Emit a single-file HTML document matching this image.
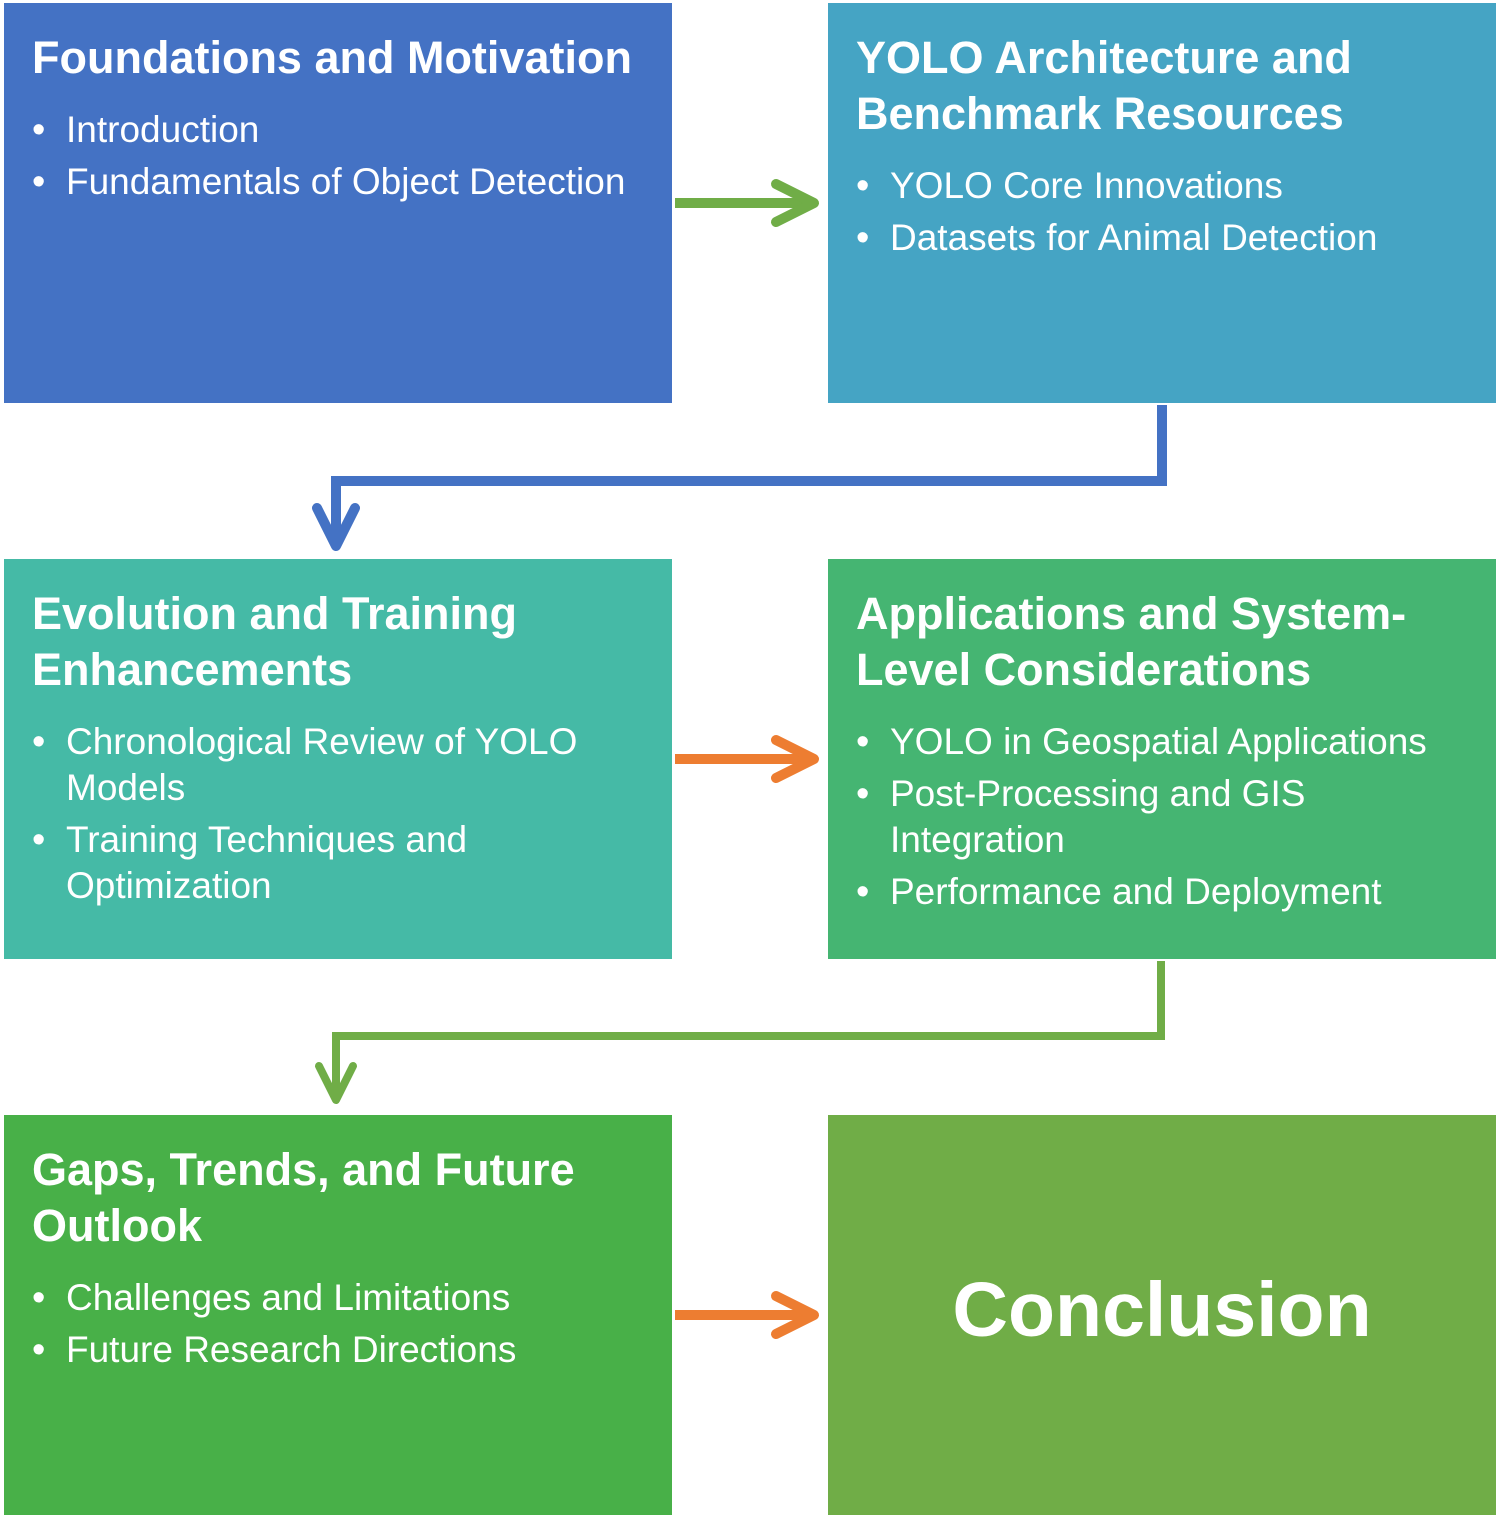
<!DOCTYPE html>
<html><head><meta charset="utf-8"><style>
body{margin:0;width:1499px;height:1518px;background:#fff;position:relative;overflow:hidden;font-family:"Liberation Sans",sans-serif;color:#fff}
.b{position:absolute;width:668px;height:400px;box-sizing:border-box;padding:27px 0 0 28px;white-space:nowrap}
h2{margin:0 0 21px;font-size:45px;line-height:56px;font-weight:bold}
ul{margin:0;padding:0;list-style:none}
li{font-size:37px;line-height:46px;padding-left:34px;position:relative;margin-bottom:6px}
li:before{content:"•";position:absolute;left:0;font-size:38px}
</style></head><body>
<div class="b" style="left:4px;top:3px;background:#4472C4"><h2>Foundations and Motivation</h2><ul><li>Introduction</li><li>Fundamentals of Object Detection</li></ul></div>
<div class="b" style="left:828px;top:3px;background:#45A4C4"><h2>YOLO Architecture and<br>Benchmark Resources</h2><ul><li>YOLO Core Innovations</li><li>Datasets for Animal Detection</li></ul></div>
<div class="b" style="left:4px;top:559px;background:#45BAA6"><h2>Evolution and Training<br>Enhancements</h2><ul><li>Chronological Review of YOLO<br>Models</li><li>Training Techniques and<br>Optimization</li></ul></div>
<div class="b" style="left:828px;top:559px;background:#45B572"><h2>Applications and System-<br>Level Considerations</h2><ul><li>YOLO in Geospatial Applications</li><li>Post-Processing and GIS<br>Integration</li><li>Performance and Deployment</li></ul></div>
<div class="b" style="left:4px;top:1115px;background:#48B048"><h2>Gaps, Trends, and Future<br>Outlook</h2><ul><li>Challenges and Limitations</li><li>Future Research Directions</li></ul></div>
<div class="b" style="left:828px;top:1115px;background:#70AD47;padding:0;display:flex;align-items:center;justify-content:center"><span style="font-size:77px;font-weight:bold;margin-top:-10px">Conclusion</span></div>
<svg width="1499" height="1518" style="position:absolute;left:0;top:0" fill="none" stroke-width="10">
<g stroke="#70AD47"><path d="M675 203H812"/><path d="M776 184L814 203L776 222" stroke-linecap="round" stroke-linejoin="round"/></g>
<g stroke="#ED7D31"><path d="M675 759H812"/><path d="M776 740L814 759L776 778" stroke-linecap="round" stroke-linejoin="round"/></g>
<g stroke="#ED7D31"><path d="M675 1315H812"/><path d="M776 1296L814 1315L776 1334" stroke-linecap="round" stroke-linejoin="round"/></g>
<g stroke="#4472C4"><path d="M1162 405V481H336V542"/><path d="M317 508L336 546L355 508" stroke-linecap="round" stroke-linejoin="round"/></g>
<g stroke="#70AD47" stroke-width="8"><path d="M1161 961V1036H336V1098"/><path d="M319 1066L336 1100L353 1066" stroke-linecap="round" stroke-linejoin="round"/></g>
</svg>
</body></html>
